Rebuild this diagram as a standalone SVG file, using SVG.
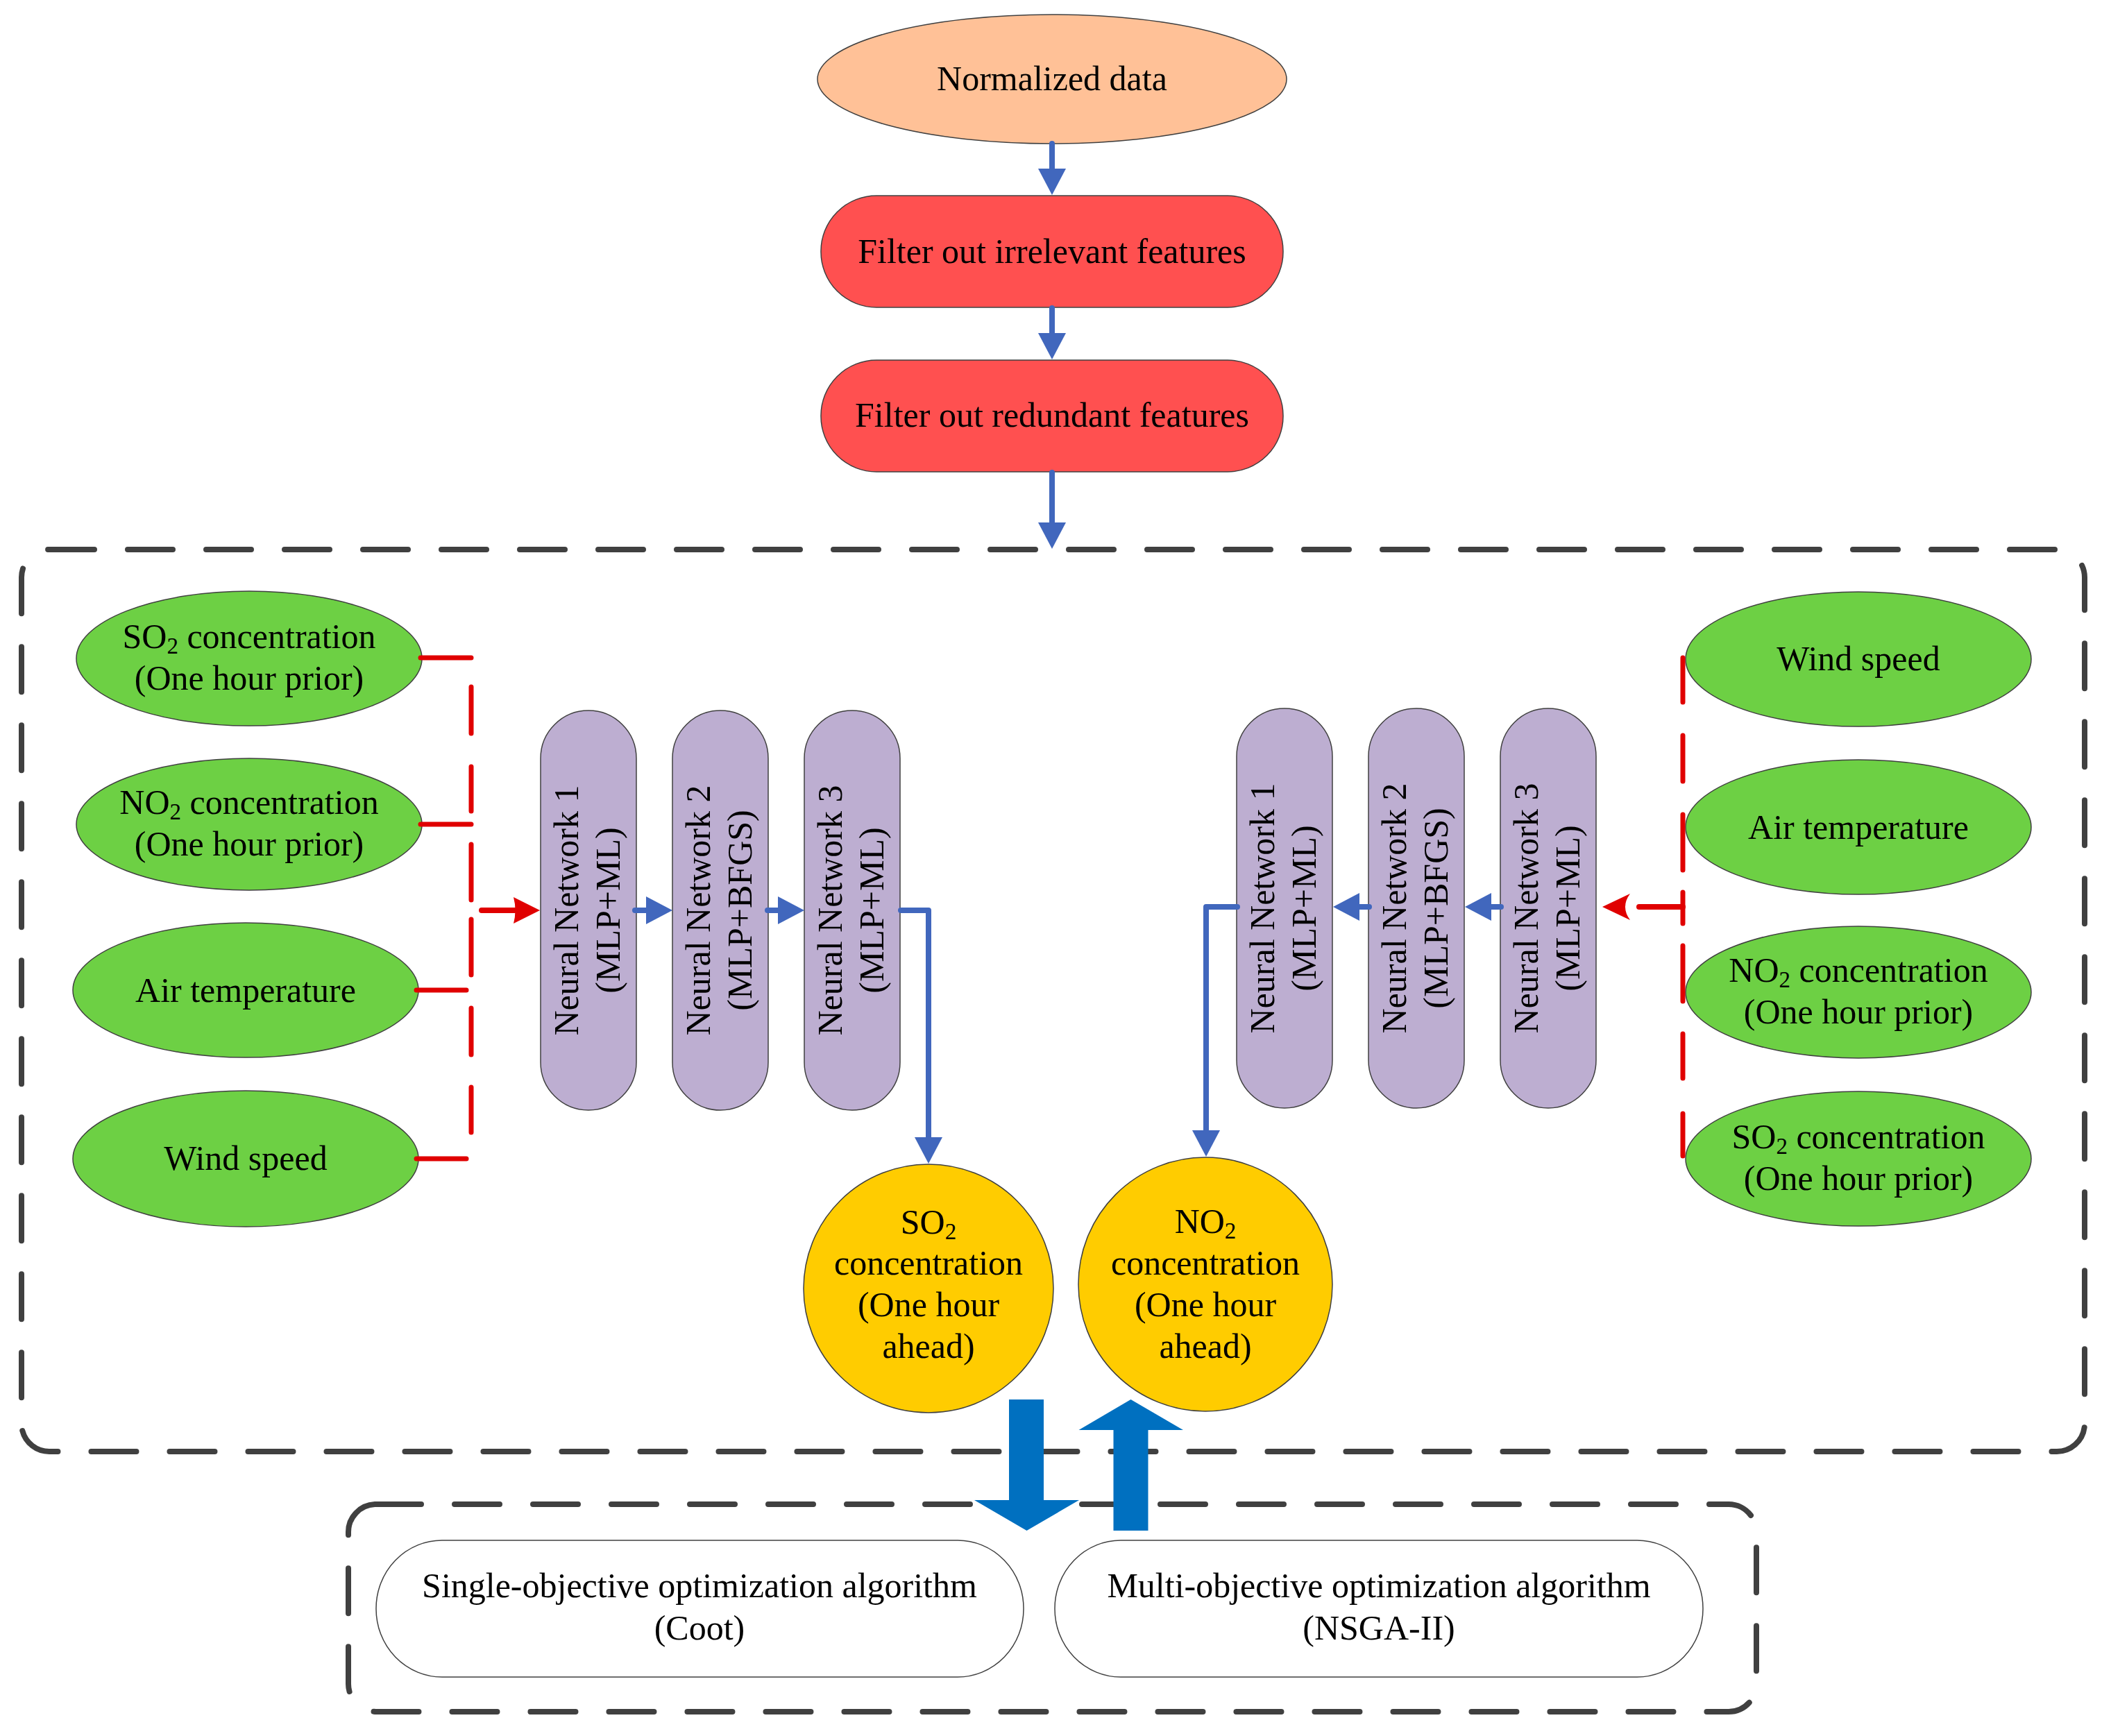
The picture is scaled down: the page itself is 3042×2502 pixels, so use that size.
<svg xmlns="http://www.w3.org/2000/svg" width="3042" height="2502" viewBox="0 0 3042 2502">
<style>
text{font-family:"Liberation Serif","Times New Roman",serif;font-size:50px;fill:#000;text-anchor:middle}
.sub{font-size:33px}
.frame{fill:none;stroke:#404040;stroke-width:8;stroke-linecap:round;stroke-dasharray:65 48}
.peach{fill:#FFC197;stroke:#404040;stroke-width:1.5}
.redbox{fill:#FF5050;stroke:#404040;stroke-width:1.5}
.green{fill:#6DD044;stroke:#404040;stroke-width:1.5}
.nn{fill:#BDAED1;stroke:#404040;stroke-width:1.5}
.yellow{fill:#FFCC00;stroke:#404040;stroke-width:1.5}
.white{fill:#FFFFFF;stroke:#404040;stroke-width:1.5}
.blue{fill:none;stroke:#4167BD;stroke-width:8;stroke-linecap:round;stroke-linejoin:round;marker-end:url(#bh)}
.redl{fill:none;stroke:#E00000;stroke-width:7;stroke-linecap:round}
.big{fill:#0070C0}
</style>
<defs>
<marker id="bh" viewBox="0 0 38 40" refX="2" refY="20" markerWidth="38" markerHeight="40" markerUnits="userSpaceOnUse" orient="auto">
<path d="M0,0 L38,20 L0,40 Z" fill="#4167BD"/>
</marker>
<marker id="rh" viewBox="0 0 38 40" refX="2" refY="20" markerWidth="38" markerHeight="40" markerUnits="userSpaceOnUse" orient="auto">
<path d="M0,1 L38,20 L0,39 Q5,20 0,1 Z" fill="#E00000"/>
</marker>
</defs>

<g id="frames">
<rect class="frame" x="31" y="792" width="2973" height="1300" rx="40"/>
<rect class="frame" x="502" y="2168" width="2029" height="299" rx="40"/>
</g>

<g id="node-normalized">
<ellipse class="peach" cx="1516" cy="114" rx="338" ry="93"/>
<text x="1516" y="130">Normalized data</text>
</g>
<g id="node-irrelevant">
<rect class="redbox" x="1183" y="282" width="666" height="161" rx="80"/>
<text x="1516" y="379">Filter out irrelevant features</text>
</g>
<g id="node-redundant">
<rect class="redbox" x="1183" y="519" width="666" height="161" rx="80"/>
<text x="1516" y="615">Filter out redundant features</text>
</g>

<g id="left-so2">
<ellipse class="green" cx="359" cy="949" rx="249" ry="97"/>
<text x="359" y="934">SO<tspan class="sub" dy="8">2</tspan><tspan dy="-8"> concentration</tspan></text>
<text x="359" y="994">(One hour prior)</text>
</g>
<g id="left-no2">
<ellipse class="green" cx="359" cy="1188" rx="249" ry="95"/>
<text x="359" y="1173">NO<tspan class="sub" dy="8">2</tspan><tspan dy="-8"> concentration</tspan></text>
<text x="359" y="1233">(One hour prior)</text>
</g>
<g id="left-air">
<ellipse class="green" cx="354" cy="1427" rx="249" ry="97"/>
<text x="354" y="1444">Air temperature</text>
</g>
<g id="left-wind">
<ellipse class="green" cx="354" cy="1670" rx="249" ry="98"/>
<text x="354" y="1686">Wind speed</text>
</g>

<g id="left-nn1">
<rect class="nn" x="779" y="1024" width="138" height="576" rx="69"/>
<g transform="translate(848,1312) rotate(-90)"><text x="0" y="-15">Neural Network 1</text><text x="0" y="45">(MLP+ML)</text></g>
</g>
<g id="left-nn2">
<rect class="nn" x="969" y="1024" width="138" height="576" rx="69"/>
<g transform="translate(1038,1312) rotate(-90)"><text x="0" y="-15">Neural Network 2</text><text x="0" y="45">(MLP+BFGS)</text></g>
</g>
<g id="left-nn3">
<rect class="nn" x="1159" y="1024" width="138" height="576" rx="69"/>
<g transform="translate(1228,1312) rotate(-90)"><text x="0" y="-15">Neural Network 3</text><text x="0" y="45">(MLP+ML)</text></g>
</g>

<g id="right-nn1">
<rect class="nn" x="1782" y="1021" width="138" height="576" rx="69"/>
<g transform="translate(1851,1309) rotate(-90)"><text x="0" y="-15">Neural Network 1</text><text x="0" y="45">(MLP+ML)</text></g>
</g>
<g id="right-nn2">
<rect class="nn" x="1972" y="1021" width="138" height="576" rx="69"/>
<g transform="translate(2041,1309) rotate(-90)"><text x="0" y="-15">Neural Network 2</text><text x="0" y="45">(MLP+BFGS)</text></g>
</g>
<g id="right-nn3">
<rect class="nn" x="2162" y="1021" width="138" height="576" rx="69"/>
<g transform="translate(2231,1309) rotate(-90)"><text x="0" y="-15">Neural Network 3</text><text x="0" y="45">(MLP+ML)</text></g>
</g>

<g id="right-wind">
<ellipse class="green" cx="2678" cy="950" rx="249" ry="97"/>
<text x="2678" y="966">Wind speed</text>
</g>
<g id="right-air">
<ellipse class="green" cx="2678" cy="1192" rx="249" ry="97"/>
<text x="2678" y="1209">Air temperature</text>
</g>
<g id="right-no2">
<ellipse class="green" cx="2678" cy="1430" rx="249" ry="95"/>
<text x="2678" y="1415">NO<tspan class="sub" dy="8">2</tspan><tspan dy="-8"> concentration</tspan></text>
<text x="2678" y="1475">(One hour prior)</text>
</g>
<g id="right-so2">
<ellipse class="green" cx="2678" cy="1670" rx="249" ry="97"/>
<text x="2678" y="1655">SO<tspan class="sub" dy="8">2</tspan><tspan dy="-8"> concentration</tspan></text>
<text x="2678" y="1715">(One hour prior)</text>
</g>

<g id="out-so2">
<ellipse class="yellow" cx="1338" cy="1857" rx="180" ry="179"/>
<text x="1338" y="1778">SO<tspan class="sub" dy="8">2</tspan></text>
<text x="1338" y="1837">concentration</text>
<text x="1338" y="1897">(One hour</text>
<text x="1338" y="1957">ahead)</text>
</g>
<g id="out-no2">
<ellipse class="yellow" cx="1737" cy="1851" rx="183" ry="183"/>
<text x="1737" y="1777">NO<tspan class="sub" dy="8">2</tspan></text>
<text x="1737" y="1837">concentration</text>
<text x="1737" y="1897">(One hour</text>
<text x="1737" y="1957">ahead)</text>
</g>

<g id="opt-single">
<rect class="white" x="542" y="2220" width="933" height="197" rx="95" ry="98"/>
<text x="1008" y="2302">Single-objective optimization algorithm</text>
<text x="1008" y="2363">(Coot)</text>
</g>
<g id="opt-multi">
<rect class="white" x="1520" y="2220" width="934" height="197" rx="95" ry="98"/>
<text x="1987" y="2302">Multi-objective optimization algorithm</text>
<text x="1987" y="2363">(NSGA-II)</text>
</g>

<g id="connectors">
<path class="blue" d="M1516,207 L1516,245"/>
<path class="blue" d="M1516,444 L1516,482"/>
<path class="blue" d="M1516,681 L1516,755"/>
<path class="blue" d="M915,1312 L933,1312"/>
<path class="blue" d="M1106,1312 L1123,1312"/>
<path class="blue" d="M1298,1312 L1338,1312 L1338,1641"/>
<path class="blue" d="M1973,1307 L1957,1307"/>
<path class="blue" d="M2163,1307 L2147,1307"/>
<path class="blue" d="M1783,1307 L1738,1307 L1738,1631"/>
<path class="redl" d="M606,948 H679 M606,1188 H679 M600,1427 H672 M600,1670 H672"/>
<path class="redl" d="M679,990 V1057 M679,1105 V1169 M679,1217 V1297 M679,1325 V1405 M679,1453 V1520 M679,1567 V1632"/>
<path class="redl" style="stroke-width:8;marker-end:url(#rh)" d="M694,1312 L742,1312"/>
<path class="redl" d="M2425,948 V1012 M2425,1060 V1126 M2425,1174 V1254 M2425,1286 V1331 M2425,1363 V1443 M2425,1490 V1554 M2425,1605 V1666"/>
<path class="redl" style="stroke-width:8" d="M2425,1307 H2362"/>
<path d="M2309,1307 L2349,1288 Q2335,1307 2349,1326 Z" fill="#E00000"/>
<path class="big" d="M1454,2017 H1504 V2162 H1555 L1479.5,2206 L1404,2162 H1454 Z"/>
<path class="big" d="M1604.5,2206 H1654.5 V2061 H1705 L1629.5,2017 L1554.5,2061 H1604.5 Z"/>
</g>
</svg>
